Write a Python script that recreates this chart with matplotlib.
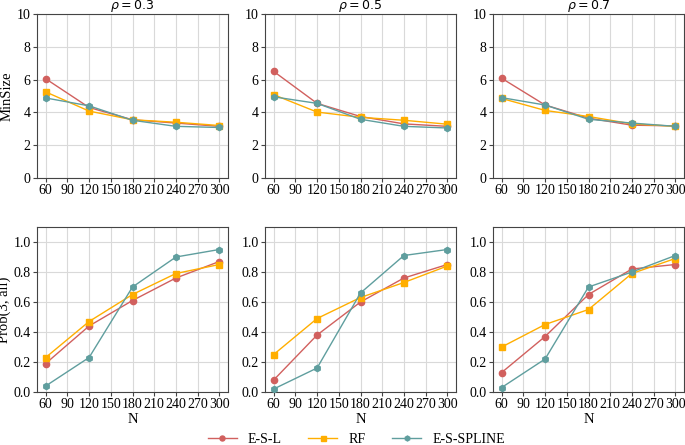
import matplotlib
matplotlib.use("Agg")
import matplotlib.pyplot as plt

N = [60, 120, 180, 240, 300]
rhos = [0.3, 0.5, 0.7]
methods = ["E-S-L", "RF", "E-S-SPLINE"]

# MinSize, one list per rho
minsize_esl = [[6.05, 4.30, 3.55, 3.35, 3.15],
               [6.50, 4.55, 3.75, 3.30, 3.15],
               [6.08, 4.45, 3.65, 3.22, 3.18]]
minsize_rf = [[5.25, 4.08, 3.55, 3.40, 3.20],
              [5.08, 4.02, 3.70, 3.52, 3.28],
              [4.85, 4.12, 3.75, 3.30, 3.15]]
minsize_spline = [[4.88, 4.40, 3.52, 3.15, 3.08],
                  [4.95, 4.55, 3.58, 3.15, 3.05],
                  [4.90, 4.45, 3.58, 3.35, 3.15]]

# Prob(3, all), one list per rho
prob_esl = [[0.19, 0.44, 0.61, 0.76, 0.87],
            [0.08, 0.38, 0.60, 0.76, 0.85],
            [0.13, 0.37, 0.65, 0.82, 0.85]]
prob_rf = [[0.23, 0.47, 0.65, 0.79, 0.85],
           [0.25, 0.49, 0.63, 0.73, 0.84],
           [0.30, 0.45, 0.55, 0.79, 0.89]]
prob_spline = [[0.04, 0.23, 0.70, 0.90, 0.95],
               [0.02, 0.16, 0.66, 0.91, 0.95],
               [0.03, 0.22, 0.70, 0.80, 0.91]]

colors = ["#d1605e", "#ffae00", "#5f9e9e"]
markers = ["o", "s", "h"]

plt.rcParams["font.family"] = ["Liberation Serif", "DejaVu Serif"]
plt.rcParams["mathtext.fontset"] = "dejavusans"

W, H = 685, 445
fig = plt.figure(figsize=(6.85, 4.45), dpi=100)

lefts = [37, 265, 493]
rows = [(14, 178), (227, 392)]

for row, series in enumerate([(minsize_esl, minsize_rf, minsize_spline),
                              (prob_esl, prob_rf, prob_spline)]):
    top, bot = rows[row]
    for col in range(3):
        ax = fig.add_axes([lefts[col] / W, 1 - bot / H, 191 / W, (bot - top) / H])
        for k, data in enumerate(series):
            ax.plot(N, data[col], color=colors[k], marker=markers[k],
                    markersize=4.5, linewidth=1.0, label=methods[k], zorder=3)
        ax.set_xticks(range(60, 301, 30))
        ax.grid(True, color="#d9d9d9", linewidth=0.8, zorder=0)
        ax.set_axisbelow(True)
        for sp in ax.spines.values():
            sp.set_color("#444444")
            sp.set_linewidth(0.8)
        ax.tick_params(length=3, color="#444444", width=0.8, labelsize=10, pad=1.5)
        if row == 0:
            ax.set_ylim(0, 10)
            ax.set_yticks([0, 2, 4, 6, 8, 10])
            ax.set_title(r"$\rho = %.1f$" % rhos[col], fontsize=9, pad=2,
                         fontfamily="DejaVu Sans")
            if col == 0:
                ax.set_ylabel("MinSize", fontsize=10.5, labelpad=2)
        else:
            ax.set_ylim(0, 1.1)
            ax.set_yticks([0.0, 0.2, 0.4, 0.6, 0.8, 1.0])
            ax.set_xlabel("N", fontsize=10.5, labelpad=1)
            if col == 0:
                ax.set_ylabel("Prob(3, all)", fontsize=10.5, labelpad=2)
                handles, labels = ax.get_legend_handles_labels()

fig.legend(handles, labels, loc="lower center", ncol=3, frameon=False,
           bbox_to_anchor=(0.52, -0.03), prop={"size": 10},
           handlelength=2.1, handletextpad=0.8, columnspacing=1.9,
           markerscale=0.8)

fig.savefig("out.png", dpi=100)
